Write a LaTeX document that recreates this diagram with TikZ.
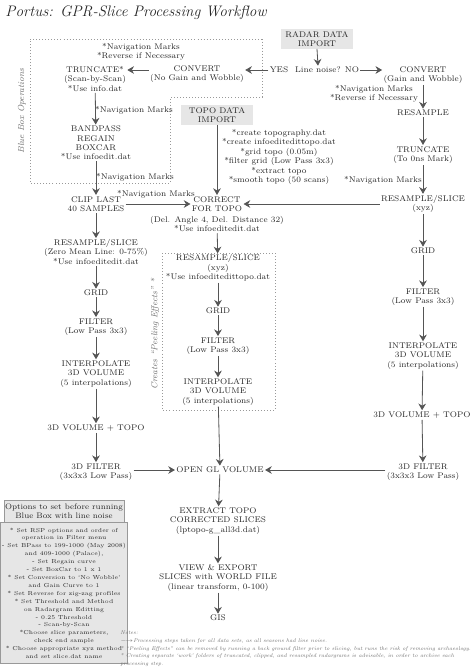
\documentclass[tikz,border=0pt]{standalone}
\usetikzlibrary{arrows.meta}
\definecolor{txt}{HTML}{262626}
\definecolor{wire}{HTML}{555555}
\definecolor{frame}{HTML}{999999}
\definecolor{panel}{HTML}{E6E6E6}
\definecolor{notegray}{HTML}{6E6E6E}

\begin{document}
\begin{tikzpicture}[x=0.3mm, y=-0.3mm,
    >={Stealth[length=2mm, width=2.3mm]},
    every node/.style={text=txt, inner sep=1pt},
    stage/.style={align=center, font=\fontsize{7}{8}\selectfont},
    import/.style={stage, fill=panel, minimum width=21.6mm, minimum height=5.8mm},
    flow/.style={->, draw=wire, line width=0.7pt},
    group/.style={draw=frame, dotted, line width=0.6pt},
    sidelabel/.style={rotate=90, font=\fontsize{7.5}{9}\selectfont\itshape, text=notegray},
    optbox/.style={draw=frame, fill=panel, line width=0.6pt, align=center, minimum width=32.4mm}]
\useasboundingbox (0,0) rectangle (474,671);

\node[anchor=west, font=\fontsize{13}{15}\selectfont\itshape] (title) at (4,13) {Portus: GPR-Slice Processing Workflow};

% Radar import and line-noise decision
\node[import] (radar) at (317,39) {RADAR DATA\\IMPORT};
\node[stage] (noise) at (318,70) {Line noise?};
\node[stage] (yes) at (279,70) {YES};
\node[stage] (no) at (352,70) {NO};

% Blue Box branch (line noise)
\draw[group] (30,39) -- (262,39) -- (262,97) -- (170,97) -- (170,183) -- (30,183) -- cycle;
\node[sidelabel] (bluelabel) at (22,111) {Blue Box Operations};
\node[stage] (convL) at (197,74) {CONVERT\\(No Gain and Wobble)};
\node[stage] (truncL) at (95,79) {TRUNCATE*\\(Scan-by-Scan)\\*Use info.dat};
\node[stage] (navL1) at (141,52) {*Navigation Marks\\*Reverse if Necessary};
\node[stage] (band) at (96,143) {BANDPASS\\REGAIN\\BOXCAR\\*Use infoedit.dat};
\node[stage] (navL2) at (134,110) {*Navigation Marks};
\node[stage] (navL3) at (135,177) {*Navigation Marks};
\node[stage] (clip) at (96,204) {CLIP LAST\\40 SAMPLES};
\node[stage] (navC) at (156,194) {*Navigation Marks};

% Topography
\node[import] (topo) at (217,115) {TOPO DATA\\IMPORT};
\node[stage] (toponotes) at (279,157) {*create topography.dat\\*create infoeditedittopo.dat\\*grid topo (0.05m)\\*filter grid (Low Pass 3x3)\\*extract topo\\*smooth topo (50 scans)};
\node[stage] (correct) at (217,204) {CORRECT\\FOR TOPO};
\node[stage] (corrinfo) at (217,224) {(Del. Angle 4, Del. Distance 32)\\*Use infoeditedit.dat};

% No line noise branch
\node[stage] (convR) at (423,75) {CONVERT\\(Gain and Wobble)};
\node[stage] (navR1) at (374,94) {*Navigation Marks\\*Reverse if Necessary};
\node[stage] (resampR) at (423,113) {RESAMPLE};
\node[stage] (truncR) at (423,155) {TRUNCATE\\(To 0ns Mark)};
\node[stage] (navR2) at (383,180) {*Navigation Marks};
\node[stage] (resliceR) at (423,204) {RESAMPLE/SLICE\\(xyz)};
\node[stage] (gridR) at (423,251) {GRID};
\node[stage] (filterR) at (423,297) {FILTER\\(Low Pass 3x3)};
\node[stage] (interpR) at (423,356) {INTERPOLATE\\3D VOLUME\\(5 interpolations)};
\node[stage] (topoR) at (422,415) {3D VOLUME + TOPO};
\node[stage] (filt3R) at (423,472) {3D FILTER\\(3x3x3 Low Pass)};

% Left column after clipping
\node[stage] (resliceL) at (96,252) {RESAMPLE/SLICE\\(Zero Mean Line: 0-75\%)\\*Use infoeditedit.dat};
\node[stage] (gridL) at (96,293) {GRID};
\node[stage] (filterL) at (96,327) {FILTER\\(Low Pass 3x3)};
\node[stage] (interpL) at (96,374) {INTERPOLATE\\3D VOLUME\\(5 interpolations)};
\node[stage] (topoL) at (96,428) {3D VOLUME + TOPO};
\node[stage] (filt3L) at (96,472) {3D FILTER\\(3x3x3 Low Pass)};

% Topo corrected column
\draw[group] (162,253) rectangle (275,410);
\node[sidelabel] (peellabel) at (155,334) {Creates ``Peeling Effects'' *};
\node[stage] (resliceM) at (218,268) {RESAMPLE/SLICE\\(xyz)\\*Use infoeditedittopo.dat};
\node[stage] (gridM) at (218,311) {GRID};
\node[stage] (filterM) at (218,346) {FILTER\\(Low Pass 3x3)};
\node[stage] (interpM) at (218,392) {INTERPOLATE\\3D VOLUME\\(5 interpolations)};

% Output
\node[stage] (opengl) at (220,470) {OPEN GL VOLUME};
\node[stage] (extract) at (218,521) {EXTRACT TOPO\\CORRECTED SLICES\\(lptopo-g\_all3d.dat)};
\node[stage] (view) at (218,578) {VIEW \& EXPORT\\SLICES with WORLD FILE\\(linear transform, 0-100)};
\node[stage] (gis) at (218,618) {GIS};

% Options and notes
\node[optbox, minimum height=6.6mm, font=\fontsize{6.8}{8}\selectfont] (opthead) at (64,511) {Options to set before running\\Blue Box with line noise};
\node[optbox, minimum height=42.3mm, anchor=north, font=\fontsize{4.9}{6.75}\selectfont] (optbody) at (opthead.south) {* Set RSP options and order of\\operation in Filter menu\\- Set BPass to 199-1000 (May 2008)\\and 409-1000 (Palace),\\- Set Regain curve\\- Set BoxCar to 1 x 1\\* Set Conversion to `No Wobble'\\and Gain Curve to 1\\* Set Reverse for zig-zag profiles\\* Set Threshold and Method\\on Radargram Editting\\- 0.25 Threshold\\- Scan-by-Scan\\*Choose slice parameters,\\check end sample\\* Choose appropriate xyz method\\and set slice.dat name};
\node[anchor=north west, align=left, text=notegray, font=\fontsize{4.6}{6.8}\selectfont\itshape] (notes) at (119,629) {Notes:\\$\longrightarrow$Processing steps taken for all data sets, as all seasons had line noise.\\* ``Peeling Effects'' can be removed by running a back ground filter prior to slicing, but runs the risk of removing archaeology.\\* Creating separate `work' folders of truncated, clipped, and resampled radargrams is advisable, in order to archive each\\processing step.};

% Connectors
\draw[flow] (radar.south) -- (noise.north);
\draw[flow] (yes) -- (yes -| convL.east);
\draw[flow] (no) -- (no -| convR.west);
\draw[flow] (convL.west |- yes) -- (truncL.east |- yes);
\draw[flow] (truncL) -- (band);
\draw[flow] (band) -- (clip);
\draw[flow] (clip) -- (correct);
\draw[flow] (topo) -- (correct);
\draw[flow] (resliceR) -- (correct);
\draw[flow] (convR) -- (resampR);
\draw[flow] (resampR) -- (truncR);
\draw[flow] (truncR) -- (resliceR);
\draw[flow] (resliceR) -- (gridR);
\draw[flow] (gridR) -- (filterR);
\draw[flow] (filterR) -- (interpR);
\draw[flow] (interpR) -- (topoR);
\draw[flow] (topoR) -- (filt3R);
\draw[flow] (clip) -- (resliceL);
\draw[flow] (resliceL) -- (gridL);
\draw[flow] (gridL) -- (filterL);
\draw[flow] (filterL) -- (interpL);
\draw[flow] (interpL) -- (topoL);
\draw[flow] (topoL) -- (filt3L);
\draw[flow] (corrinfo) -- (resliceM);
\draw[flow] (resliceM) -- (gridM);
\draw[flow] (gridM) -- (filterM);
\draw[flow] (filterM) -- (interpM);
\draw[flow] (interpM) -- (opengl);
\draw[flow] (filt3L.east |- opengl) -- (opengl);
\draw[flow] (filt3R.west |- opengl) -- (opengl);
\draw[flow] (opengl) -- (extract);
\draw[flow] (extract) -- (view);
\draw[flow] (view) -- (gis);
\end{tikzpicture}
\end{document}
